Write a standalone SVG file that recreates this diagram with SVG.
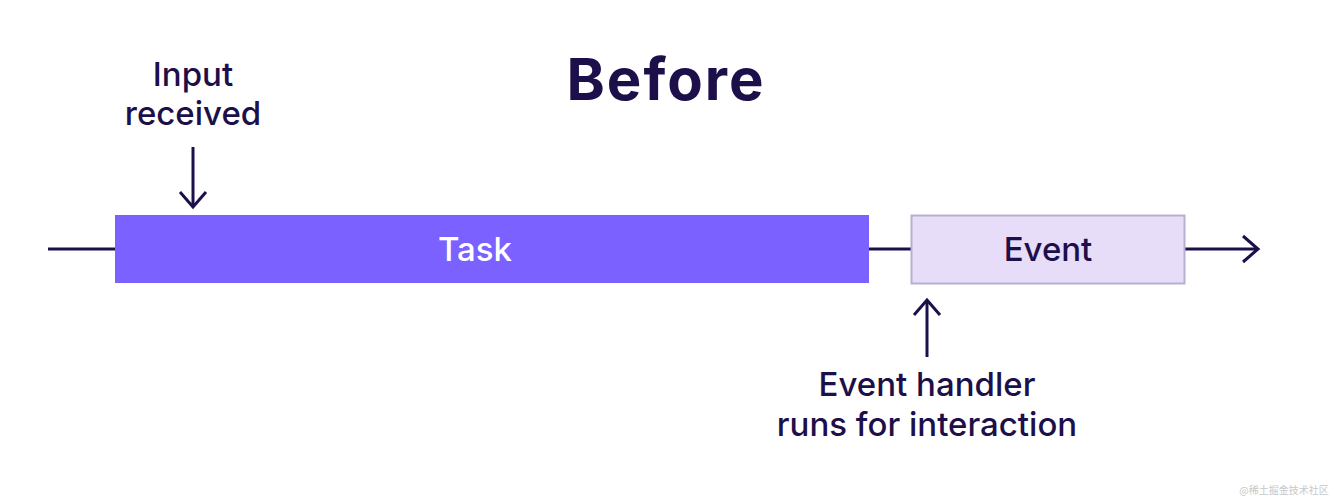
<svg xmlns="http://www.w3.org/2000/svg" width="1329" height="500" viewBox="0 0 1329 500">
<style>
text{font-family:Inter,"Liberation Sans",sans-serif;fill:#1c0f4a;text-anchor:middle}
.lbl{font-size:33px;font-weight:500}
.ln{stroke:#1c0f4a;stroke-width:3;fill:none}
</style>
<defs>
<marker id="ah" viewBox="0 0 20 30" refX="17" refY="15" markerWidth="20" markerHeight="30" markerUnits="userSpaceOnUse" orient="auto">
<path d="M2,2 L17,15 L2,28" fill="none" stroke="#1c0f4a" stroke-width="3"/>
</marker>
</defs>
<rect width="1329" height="500" fill="#fff"/>
<text id="title" x="666" y="100" style="font-size:58px;font-weight:700;letter-spacing:2px">Before</text>
<g id="connectors">
<line class="ln" x1="48" y1="249" x2="115" y2="249"/>
<line class="ln" x1="869" y1="249" x2="911" y2="249"/>
<line class="ln" x1="1184" y1="249" x2="1258" y2="249" marker-end="url(#ah)"/>
<line class="ln" x1="193" y1="147" x2="193" y2="207" marker-end="url(#ah)"/>
<line class="ln" x1="927" y1="357" x2="927" y2="300" marker-end="url(#ah)"/>
</g>
<g id="task">
<rect x="115" y="215" width="754" height="68" fill="#7b61ff"/>
<text class="lbl" x="475" y="261" style="fill:#fff">Task</text>
</g>
<g id="event">
<rect x="911.5" y="215.5" width="273" height="68" fill="#e7ddf9" stroke="#b8afd0" stroke-width="2"/>
<text class="lbl" x="1048" y="261">Event</text>
</g>
<g id="input-label">
<text class="lbl" x="193" y="86">Input</text>
<text class="lbl" x="193" y="125">received</text>
</g>
<g id="handler-label">
<text class="lbl" x="927" y="396">Event handler</text>
<text class="lbl" x="927" y="436">runs for interaction</text>
</g>
<text x="1284" y="494" style="font-size:10px;fill:#c8c8c8;font-family:'Noto Sans CJK SC',sans-serif">@稀土掘金技术社区</text>
</svg>
